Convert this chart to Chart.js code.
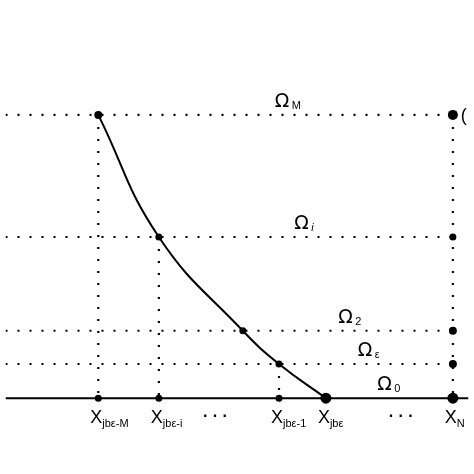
<!DOCTYPE html><html><head><style>html,body{margin:0;padding:0;background:#fff}#c{width:474px;height:474px}</style>
<script src="https://cdn.jsdelivr.net/npm/chart.js@4/dist/chart.umd.min.js"></script></head><body><div id="c"><canvas id="cv"></canvas></div>
<script>
// x positions of nodes, y levels (Ω values)
const nodeX = [95, 157, 243, 280, 328];
const levelY = [290, 165, 69, 35, 0]; // Ω_M, Ω_i, Ω_2, Ω_ε, Ω_0 heights
const rightX = 458;
const levelNames = ['M','i','2','ε','0'];
const levelLabelX = [290, 310, 355, 375, 395];
const xTickPos = [95, 157, 280, 328, 458];
const xTickSub = ['jbε-M','jbε-i','jbε-1','jbε','N'];
const dotsPos = [215, 405];

const curve = nodeX.map((x,i)=>({x, y:levelY[i]}));
const ds = [];
ds.push({data:curve, borderColor:'#000', borderWidth:2, tension:0.45, pointRadius:[4,3.5,3.5,3.5,5.5], pointBackgroundColor:'#000', pointBorderWidth:0, showLine:true});
// horizontal dotted lines
levelY.forEach((y,i)=>{ ds.push({data:[{x:0,y},{x:rightX,y}], borderColor:'#000', borderWidth:i===4?2:2.2, borderDash:i===4?[]:[2,10], pointRadius:0, showLine:true}); });
ds.push({data:[{x:rightX,y:0},{x:474,y:0}], borderColor:'#000', borderWidth:2, pointRadius:0, showLine:true});
// vertical dotted lines
[[95,levelY[0]],[157,levelY[1]],[280,levelY[3]],[rightX,levelY[0]]].forEach(([x,y])=>{ ds.push({data:[{x,y},{x,y:0}], borderColor:'#000', borderWidth:2.2, borderDash:[2,10], pointRadius:0, showLine:true}); });
// base points & right points
ds.push({data:[95,157,280].map(x=>({x,y:0})), pointRadius:3.5, pointBackgroundColor:'#000', pointBorderWidth:0, showLine:false});
ds.push({data:levelY.map(y=>({x:rightX,y})), pointRadius:[5,3.5,4,4,5.5], pointBackgroundColor:'#000', pointBorderWidth:0, showLine:false});

const labels = {id:'lbl', afterDraw(ch){
  const c=ch.ctx, xs=ch.scales.x, ys=ch.scales.y;
  c.save(); c.fillStyle='#000'; c.textBaseline='alphabetic';
  levelY.forEach((y,i)=>{ const px=xs.getPixelForValue(levelLabelX[i]), py=ys.getPixelForValue(y)-8;
    c.font='19px "DejaVu Sans"'; c.textAlign='left'; c.fillText('Ω',px-14,py);
    c.font=(i===1?'italic ':'')+'11px "Liberation Sans"'; c.fillText(levelNames[i],px+3,py+2); });
  const by=ys.getPixelForValue(0)+25;
  xTickPos.forEach((x,i)=>{ const px=xs.getPixelForValue(x);
    c.font='18px "Liberation Sans"'; c.fillText('X',px-8,by);
    c.font='11px "Liberation Sans"'; c.fillText(xTickSub[i],px+4,by+4); });
  c.font='bold 16px "Liberation Sans"'; dotsPos.forEach(x=>{c.textAlign='center'; c.fillText('· · ·',xs.getPixelForValue(x),by-2);});
  c.font='18px "Liberation Sans"'; c.textAlign='left'; c.fillText('(',xs.getPixelForValue(rightX)+8,ys.getPixelForValue(levelY[0])+6);
  c.restore();}};

new Chart(document.getElementById('cv'),{type:'scatter',data:{datasets:ds},plugins:[labels],
options:{responsive:true,maintainAspectRatio:false,animation:false,layout:{padding:0},
plugins:{legend:{display:false},tooltip:{enabled:false}},
scales:{x:{type:'linear',min:0,max:474,display:false},y:{type:'linear',min:-72,max:402,display:false}}}});
</script></body></html>
